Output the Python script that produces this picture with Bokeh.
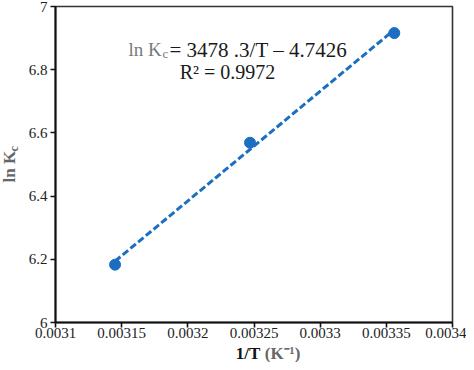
import numpy as np
from bokeh.plotting import figure
from bokeh.layouts import row, column
from bokeh.models import FixedTicker, Label
from bokeh.core.properties import value
from bokeh.embed import file_html
from bokeh.resources import INLINE

# ---- data ----
inv_T = [0.003145, 0.003247, 0.003356]
ln_Kc = [6.183, 6.569, 6.916]
x_ticks = [0.0031, 0.00315, 0.0032, 0.00325, 0.0033, 0.00335, 0.0034]
x_tick_labels = ["0.0031", "0.00315", "0.0032", "0.00325", "0.0033", "0.00335", "0.0034"]
y_ticks = [6.0, 6.2, 6.4, 6.6, 6.8, 7.0]
y_tick_labels = ["6", "6.2", "6.4", "6.6", "6.8", "7"]
eq_lhs = "ln K"
eq_sub = "c"
eq_rhs = "= 3478 .3/T \u2013 4.7426"
r2_text = "R\u00b2 = 0.9972"
x_title_a = "1/T"
x_title_b = "(K\u207b\u00b9)"
y_title = "ln K"
y_title_sub = "c"

X0, X1 = 0.0031, 0.0034
Y0, Y1 = 6.0, 7.0

BLUE = "#1b6ec0"
FONT = "Liberation Serif"

# ---- layout sizes ----
TOTAL_W, TOTAL_H = 466, 362
YT_W = 22            # left strip for the y-axis title
XT_H = 18            # bottom strip for the x-axis title
BL, FW = 33, 397     # main figure: left border, frame width
BT, FH, BB = 6, 316, 22
BR = TOTAL_W - YT_W - BL - FW

p = figure(frame_width=FW, frame_height=FH,
           x_range=(X0, X1), y_range=(Y0, Y1),
           output_backend="svg", toolbar_location=None,
           min_border_left=BL, min_border_right=BR,
           min_border_top=BT, min_border_bottom=BB)
p.background_fill_color = "white"
p.border_fill_color = "white"
p.grid.visible = False
p.outline_line_color = "#333333"
p.outline_line_width = 1.6

for ax in (p.xaxis, p.yaxis):
    ax.axis_line_color = "#111111"
    ax.axis_line_width = 2
    ax.major_tick_line_color = "#111111"
    ax.major_tick_line_width = 1.6
    ax.major_tick_out = 5
    ax.major_tick_in = 0
    ax.minor_tick_line_color = None
    ax.major_label_text_font = FONT
    ax.major_label_text_font_size = "15px"
    ax.major_label_text_color = "#222222"

p.xaxis.ticker = FixedTicker(ticks=x_ticks)
p.xaxis.major_label_overrides = dict(zip(x_ticks, x_tick_labels))
p.xaxis.major_label_standoff = 0
p.yaxis.ticker = FixedTicker(ticks=y_ticks)
p.yaxis.major_label_overrides = dict(zip(y_ticks, y_tick_labels))
p.yaxis.major_label_standoff = 3

# fit line (least squares through the data)
slope, intercept = np.polyfit(inv_T, ln_Kc, 1)
fit_x = [inv_T[0], inv_T[-1]]
fit_y = [slope * v + intercept for v in fit_x]
p.line(fit_x, fit_y, line_color=BLUE, line_width=3, line_dash="7 3")
p.scatter(inv_T, ln_Kc, size=11, fill_color=BLUE, line_color=BLUE)

# page-pixel -> data helpers for the annotation inside the frame
FL, FR, FT, FB = YT_W + BL, YT_W + BL + FW, BT, BT + FH
def xd(px):
    return X0 + (px - FL) / (FR - FL) * (X1 - X0)
def yd(py):
    return Y0 + (FB - py) / (FB - FT) * (Y1 - Y0)

def lab(x, y, text, size, color, align="left"):
    p.add_layout(Label(x=xd(x), y=yd(y), text=text, text_font=FONT,
                       text_font_size=size, text_color=color, text_align=align,
                       text_baseline="alphabetic"))

lab(128, 49, eq_lhs, "19px", "#7a7a7a")
lab(162, 53, eq_sub, "13px", "#7a7a7a")
lab(169, 49, eq_rhs, "21px", "#1a1a1a")
lab(227, 71, r2_text, "20px", "#1a1a1a", align="center")

def strip(w, h):
    f = figure(width=w, height=h, x_range=(0, w), y_range=(0, h),
               output_backend="svg", toolbar_location=None,
               x_axis_type=None, y_axis_type=None,
               min_border=0, min_border_left=0, min_border_right=0,
               min_border_top=0, min_border_bottom=0)
    f.grid.visible = False
    f.outline_line_color = None
    f.background_fill_color = "white"
    f.border_fill_color = "white"
    return f

# x-axis title strip (below main figure)
xt = strip(TOTAL_W - YT_W, XT_H)
xt.text(x=[251 - YT_W], y=[XT_H / 2], text=[x_title_a], text_font=value(FONT),
        text_font_size="17px", text_font_style="bold", text_color="#111111",
        text_align="right", text_baseline="middle")
xt.text(x=[256 - YT_W], y=[XT_H / 2], text=[x_title_b], text_font=value(FONT),
        text_font_size="17px", text_font_style="bold", text_color="#666666",
        text_align="left", text_baseline="middle")

# y-axis title strip (left)
yt = strip(YT_W, TOTAL_H)
yt.text(x=[9], y=[TOTAL_H - 182], text=[y_title], text_font=value(FONT),
        text_font_size="17px", text_font_style="bold", text_color="#666666",
        text_align="left", text_baseline="middle", angle=np.pi / 2)
yt.text(x=[13], y=[TOTAL_H - 151], text=[y_title_sub], text_font=value(FONT),
        text_font_size="12px", text_font_style="bold", text_color="#666666",
        text_align="left", text_baseline="middle", angle=np.pi / 2)

layout = row(yt, column(p, xt, spacing=0), spacing=0)
open("out.html", "w").write(file_html(layout, INLINE))
